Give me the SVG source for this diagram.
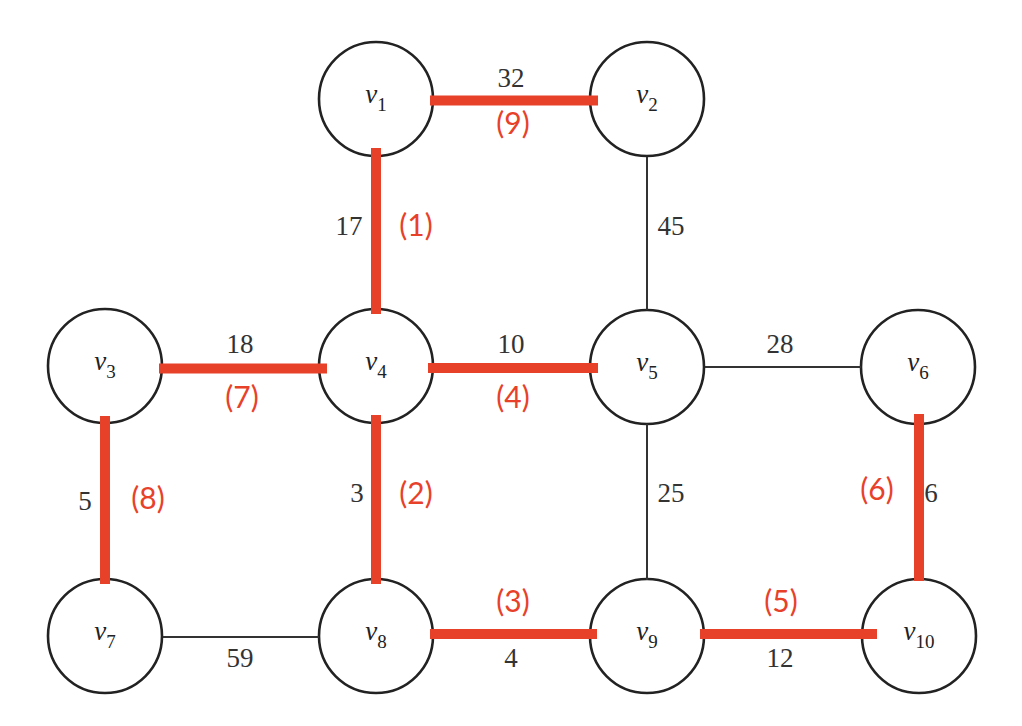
<svg xmlns="http://www.w3.org/2000/svg" width="1022" height="726" viewBox="0 0 1022 726">
<style>
.node{fill:#fff;stroke:#222;stroke-width:2.6}
.lbl{font-family:"Liberation Serif",serif;font-size:27px;fill:#222;text-anchor:middle}
.lbl .s{font-size:19px;font-style:normal}
.lbl .v{font-style:italic}
.w{font-family:"Liberation Serif",serif;font-size:27px;fill:#333;text-anchor:middle}
.o{font-family:Lato,"Open Sans",sans-serif;font-size:30px;fill:#E8412A;text-anchor:middle}
.thin{stroke:#333;stroke-width:2;fill:none}
.red{stroke:#E8412A;stroke-width:10;fill:none}
</style>
<rect width="1022" height="726" fill="#fff"/>
<g id="v1"><circle class="node" cx="376" cy="99" r="57"/><text class="lbl" x="376" y="102.5"><tspan class="v">v</tspan><tspan class="s" dy="8.5">1</tspan></text></g>
<g id="v2"><circle class="node" cx="647" cy="99" r="57"/><text class="lbl" x="647" y="102.5"><tspan class="v">v</tspan><tspan class="s" dy="8.5">2</tspan></text></g>
<g id="v3"><circle class="node" cx="105" cy="366" r="57"/><text class="lbl" x="105" y="369.5"><tspan class="v">v</tspan><tspan class="s" dy="8.5">3</tspan></text></g>
<g id="v4"><circle class="node" cx="376" cy="366" r="57"/><text class="lbl" x="376" y="369.5"><tspan class="v">v</tspan><tspan class="s" dy="8.5">4</tspan></text></g>
<g id="v5"><circle class="node" cx="647" cy="367" r="57"/><text class="lbl" x="647" y="370.5"><tspan class="v">v</tspan><tspan class="s" dy="8.5">5</tspan></text></g>
<g id="v6"><circle class="node" cx="918" cy="367" r="57"/><text class="lbl" x="918" y="370.5"><tspan class="v">v</tspan><tspan class="s" dy="8.5">6</tspan></text></g>
<g id="v7"><circle class="node" cx="105" cy="636" r="57"/><text class="lbl" x="105" y="639.5"><tspan class="v">v</tspan><tspan class="s" dy="8.5">7</tspan></text></g>
<g id="v8"><circle class="node" cx="376" cy="636" r="57"/><text class="lbl" x="376" y="639.5"><tspan class="v">v</tspan><tspan class="s" dy="8.5">8</tspan></text></g>
<g id="v9"><circle class="node" cx="647" cy="636" r="57"/><text class="lbl" x="647" y="639.5"><tspan class="v">v</tspan><tspan class="s" dy="8.5">9</tspan></text></g>
<g id="v10"><circle class="node" cx="919" cy="636" r="57"/><text class="lbl" x="919" y="639.5"><tspan class="v">v</tspan><tspan class="s" dy="8.5">10</tspan></text></g>
<g id="connectors">
<line class="thin" x1="647" y1="157" x2="647" y2="310"/>
<line class="thin" x1="705" y1="367" x2="861" y2="367"/>
<line class="thin" x1="647" y1="424" x2="647" y2="580"/>
<line class="thin" x1="163" y1="637" x2="319" y2="637"/>
<line class="red" x1="430" y1="100.5" x2="598" y2="100.5"/>
<line class="red" x1="376" y1="148" x2="376" y2="314"/>
<line class="red" x1="159" y1="368.5" x2="327" y2="368.5"/>
<line class="red" x1="428" y1="368" x2="598" y2="368"/>
<line class="red" x1="105" y1="416" x2="105" y2="584"/>
<line class="red" x1="376" y1="415" x2="376" y2="584"/>
<line class="red" x1="430" y1="634" x2="597" y2="634"/>
<line class="red" x1="700" y1="634" x2="877" y2="634"/>
<line class="red" x1="919" y1="414" x2="919" y2="581"/>
</g>
<g id="edge-labels">
<text class="w" x="511" y="87">32</text>
<text class="o" x="513" y="134">(9)</text>
<text class="w" x="349" y="235">17</text>
<text class="o" x="416" y="236">(1)</text>
<text class="w" x="671" y="235">45</text>
<text class="w" x="240" y="353">18</text>
<text class="o" x="242" y="408">(7)</text>
<text class="w" x="511" y="353">10</text>
<text class="o" x="513" y="408">(4)</text>
<text class="w" x="780" y="353">28</text>
<text class="w" x="85" y="510">5</text>
<text class="o" x="148" y="509">(8)</text>
<text class="w" x="357" y="502">3</text>
<text class="o" x="416" y="504">(2)</text>
<text class="w" x="671" y="502">25</text>
<text class="o" x="877" y="500">(6)</text>
<text class="w" x="931" y="502">6</text>
<text class="o" x="513" y="612">(3)</text>
<text class="o" x="781" y="612">(5)</text>
<text class="w" x="240" y="667">59</text>
<text class="w" x="511" y="667">4</text>
<text class="w" x="780" y="667">12</text>
</g>
</svg>
